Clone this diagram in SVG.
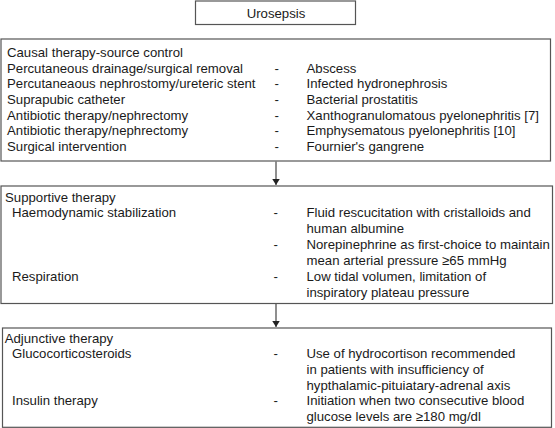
<svg xmlns="http://www.w3.org/2000/svg" width="555" height="428" viewBox="0 0 555 428">
<style>
.box{fill:#fff;stroke:#555;stroke-width:1.2}
text{font-family:"Liberation Sans",Arial,sans-serif;font-size:13.2px;fill:#1a1a1a}
.conn{stroke:#333;stroke-width:1.1;fill:none}
</style>
<defs>
<marker id="ah" viewBox="0 0 8 10" refX="8" refY="5" markerWidth="6" markerHeight="8" markerUnits="userSpaceOnUse" orient="auto">
<path d="M0,0 L8,5 L0,10 z" fill="#222"/>
</marker>
</defs>
<rect width="555" height="428" fill="#fff"/>
<g id="connectors">
<line class="conn" x1="276" y1="161.5" x2="276" y2="185" marker-end="url(#ah)"/>
<line class="conn" x1="276" y1="303.5" x2="276" y2="327" marker-end="url(#ah)"/>
</g>
<g id="urosepsis">
<rect class="box" x="195.5" y="1" width="160" height="23.5"/>
<text x="276" y="17.7" text-anchor="middle">Urosepsis</text>
</g>
<g id="causal">
<rect class="box" x="1" y="39" width="549.5" height="122"/>
<text x="7" y="57">Causal therapy-source control</text>
<text x="7" y="72.65">Percutaneous drainage/surgical removal</text>
<text x="7" y="88.3">Percutaneaous nephrostomy/ureteric stent</text>
<text x="7" y="103.95">Suprapubic catheter</text>
<text x="7" y="119.6">Antibiotic therapy/nephrectomy</text>
<text x="7" y="135.25">Antibiotic therapy/nephrectomy</text>
<text x="7" y="150.9">Surgical intervention</text>
<text x="274.5" y="72.65">-</text>
<text x="274.5" y="88.3">-</text>
<text x="274.5" y="103.95">-</text>
<text x="274.5" y="119.6">-</text>
<text x="274.5" y="135.25">-</text>
<text x="274.5" y="150.9">-</text>
<text x="306.5" y="72.65">Abscess</text>
<text x="306.5" y="88.3">Infected hydronephrosis</text>
<text x="306.5" y="103.95">Bacterial prostatitis</text>
<text x="306.5" y="119.6">Xanthogranulomatous pyelonephritis [7]</text>
<text x="306.5" y="135.25">Emphysematous pyelonephritis [10]</text>
<text x="306.5" y="150.9">Fournier's gangrene</text>
</g>
<g id="supportive">
<rect class="box" x="1" y="186" width="551.5" height="117.5"/>
<text x="5" y="201.5">Supportive therapy</text>
<text x="12" y="217.3">Haemodynamic stabilization</text>
<text x="12" y="281.3">Respiration</text>
<text x="273.5" y="217.3">-</text>
<text x="273.5" y="249.3">-</text>
<text x="273.5" y="281.3">-</text>
<text x="306.5" y="217.3">Fluid rescucitation with cristalloids and</text>
<text x="306.5" y="233.3">human albumine</text>
<text x="306.5" y="249.3">Norepinephrine as first-choice to maintain</text>
<text x="306.5" y="265.3">mean arterial pressure ≥65 mmHg</text>
<text x="306.5" y="281.3">Low tidal volumen, limitation of</text>
<text x="306.5" y="297.3">inspiratory plateau pressure</text>
</g>
<g id="adjunctive">
<rect class="box" x="2.5" y="328" width="549" height="99.3"/>
<text x="4.7" y="342.7">Adjunctive therapy</text>
<text x="12" y="358.3">Glucocorticosteroids</text>
<text x="12" y="405.3">Insulin therapy</text>
<text x="273.5" y="358.3">-</text>
<text x="273.5" y="405.3">-</text>
<text x="306.5" y="358.3">Use of hydrocortison recommended</text>
<text x="306.5" y="374">in patients with insufficiency of</text>
<text x="306.5" y="389.6">hypthalamic-pituiatary-adrenal axis</text>
<text x="306.5" y="405.3">Initiation when two consecutive blood</text>
<text x="306.5" y="421">glucose levels are ≥180 mg/dl</text>
</g>
</svg>
